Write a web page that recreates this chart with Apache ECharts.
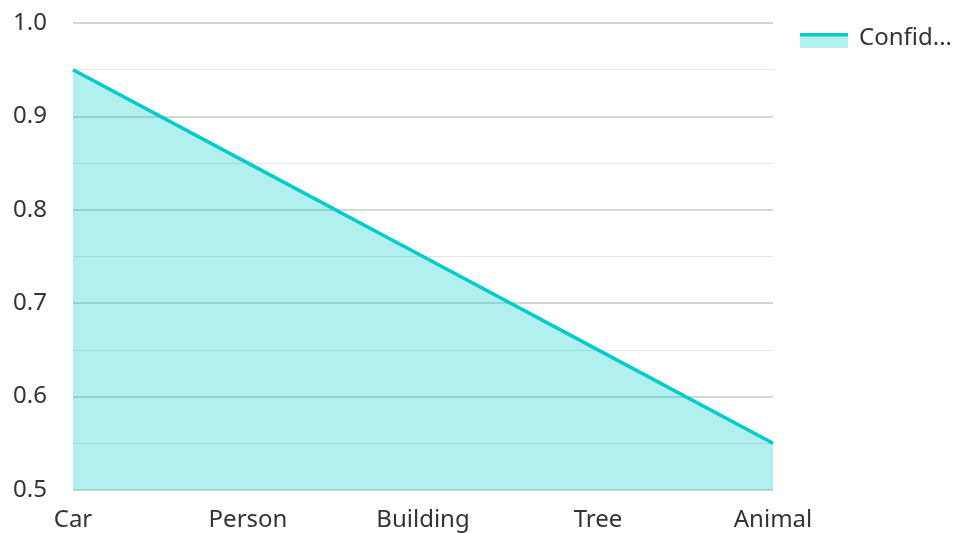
<!DOCTYPE html>
<html>
<head>
<meta charset="utf-8">
<script src="https://cdn.jsdelivr.net/npm/echarts@6/dist/echarts.min.js"></script>
<style>
  html, body { margin: 0; padding: 0; background: #fff; }
  #chart { width: 956px; height: 533px; }
</style>
</head>
<body>
<div id="chart"></div>
<script>
// Object classes along the x axis
const categories = ['Car', 'Person', 'Building', 'Tree', 'Animal'];
// Detection confidence for each class
const confidence = [0.95, 0.85, 0.75, 0.65, 0.55];
const seriesName = 'Confidence';
const yTicks = { min: 0.5, max: 1.0, interval: 0.1 };

const lineColor = '#00cccc';
const areaColor = 'rgba(0,204,204,0.3)';
const font = '"Noto Sans", "Open Sans", sans-serif';

const chart = echarts.init(document.getElementById('chart'), null, { renderer: 'canvas' });
chart.setOption({
  animation: false,
  grid: { left: 73, right: 183, top: 23, bottom: 43, containLabel: false },
  legend: {
    left: 800,
    top: 21,
    itemWidth: 48,
    itemHeight: 17,
    itemGap: 10,
    itemStyle: { opacity: 0 },
    lineStyle: { opacity: 0 },
    data: [seriesName],
    textStyle: {
      fontFamily: font, fontSize: 24, color: '#333',
      width: 102, overflow: 'truncate', ellipsis: '...'
    }
  },
  // legend swatch: area fill with the line colour along its top edge
  graphic: [
    { type: 'rect', left: 800, top: 33, shape: { width: 48, height: 15 },
      style: { fill: areaColor }, z: 100 },
    { type: 'rect', left: 800, top: 33, shape: { width: 48, height: 3.5 },
      style: { fill: lineColor }, z: 101 }
  ],
  xAxis: {
    type: 'category',
    data: categories,
    boundaryGap: false,
    axisLine: { show: false },
    axisTick: { show: false },
    axisLabel: { fontFamily: font, fontSize: 24, color: '#333', margin: 18 }
  },
  yAxis: {
    type: 'value',
    min: yTicks.min,
    max: yTicks.max,
    interval: yTicks.interval,
    axisLine: { show: false },
    axisTick: { show: false },
    axisLabel: {
      fontFamily: font, fontSize: 24, color: '#333', margin: 26,
      formatter: v => v.toFixed(1)
    },
    splitLine: { lineStyle: { color: '#c8c8c8', width: 1.5 } },
    minorTick: { show: false, splitNumber: 2 },
    minorSplitLine: { show: true, lineStyle: { color: '#e6e6e6', width: 1 } }
  },
  series: [{
    name: seriesName,
    type: 'line',
    data: confidence,
    symbol: 'none',
    lineStyle: { color: lineColor, width: 3.5 },
    itemStyle: { color: lineColor },
    areaStyle: { color: lineColor, opacity: 0.3 }
  }]
});
</script>
</body>
</html>
